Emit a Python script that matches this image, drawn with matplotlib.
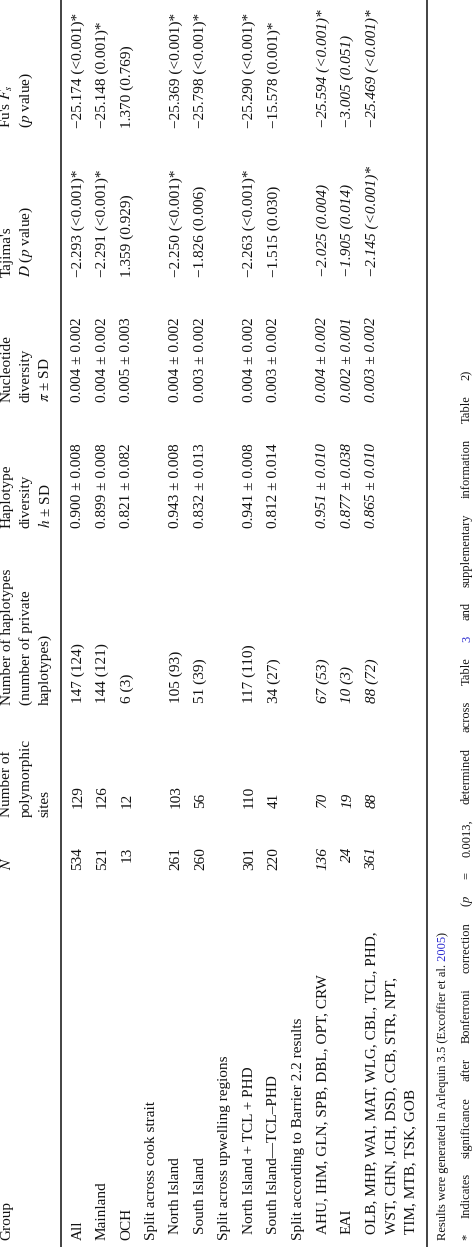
import matplotlib.pyplot as plt

plt.rcParams['font.family'] = ['Liberation Serif', 'DejaVu Serif']
plt.rcParams['mathtext.fontset'] = 'stix'

# Table data
groups = ["All", "Mainland", "OCH", "Split across cook strait", "North Island", "South Island",
          "Split across upwelling regions", "North Island + TCL + PHD", "South Island\u2014TCL\u2013PHD",
          "Split according to Barrier 2.2 results", "AHU, IHM, GLN, SPB, DBL, OPT, CRW", "EAI",
          "OLB, MHP, WAI, MAT, WLG, CBL, TCL, PHD,\nWST, CHN, JCH, DSD, CCB, STR, NPT,\nTIM, MTB, TSK, GOB"]
indent = [0, 0, 0, 0, 1, 1, 0, 1, 1, 0, 1, 1, 1]
n_vals = ["534", "521", "13", "", "261", "260", "", "301", "220", "", "136", "24", "361"]
poly_sites = ["129", "126", "12", "", "103", "56", "", "110", "41", "", "70", "19", "88"]
n_haps = ["147 (124)", "144 (121)", "6 (3)", "", "105 (93)", "51 (39)", "", "117 (110)", "34 (27)", "",
          "67 (53)", "10 (3)", "88 (72)"]
hap_div = ["0.900 \u00b1 0.008", "0.899 \u00b1 0.008", "0.821 \u00b1 0.082", "", "0.943 \u00b1 0.008",
           "0.832 \u00b1 0.013", "", "0.941 \u00b1 0.008", "0.812 \u00b1 0.014", "",
           "0.951 \u00b1 0.010", "0.877 \u00b1 0.038", "0.865 \u00b1 0.010"]
nuc_div = ["0.004 \u00b1 0.002", "0.004 \u00b1 0.002", "0.005 \u00b1 0.003", "", "0.004 \u00b1 0.002",
           "0.003 \u00b1 0.002", "", "0.004 \u00b1 0.002", "0.003 \u00b1 0.002", "",
           "0.004 \u00b1 0.002", "0.002 \u00b1 0.001", "0.003 \u00b1 0.002"]
tajima = ["\u22122.293 (<0.001)*", "\u22122.291 (<0.001)*", "1.359 (0.929)", "", "\u22122.250 (<0.001)*",
          "\u22121.826 (0.006)", "", "\u22122.263 (<0.001)*", "\u22121.515 (0.030)", "",
          "\u22122.025 (0.004)", "\u22121.905 (0.014)", "\u22122.145 (<0.001)*"]
fu_fs = ["\u221225.174 (<0.001)*", "\u221225.148 (0.001)*", "1.370 (0.769)", "", "\u221225.369 (<0.001)*",
         "\u221225.798 (<0.001)*", "", "\u221225.290 (<0.001)*", "\u221215.578 (0.001)*", "",
         "\u221225.594 (<0.001)*", "\u22123.005 (0.051)", "\u221225.469 (<0.001)*"]
italic_rows = [10, 11, 12]

headers = ["Group", "$N$", "Number of\npolymorphic\nsites", "Number of haplotypes\n(number of private\nhaplotypes)",
           "Haplotype\ndiversity\n$h$ \u00b1 SD", "Nucleotide\ndiversity\n$\\pi$ \u00b1 SD",
           "Tajima's\n$D$ ($p$ value)", "Fu's $F_s$\n($p$ value)"]

note2_words = ["*", "Indicates", "significance", "after", "Bonferroni", "correction", "($p$", "=", "0.0013,",
               "determined", "across", "Table", "3", "and", "supplementary", "information", "Table", "2)"]

W, H = 474, 1247
fig = plt.figure(figsize=(W / 100, H / 100), dpi=100)
ax = fig.add_axes([0, 0, 1, 1])
ax.set_xlim(0, W)
ax.set_ylim(H, 0)
ax.axis('off')

FS = 11
kw = dict(rotation=90, rotation_mode='anchor', fontsize=FS, color='#111111')

# header (columns: anchor y, alignment)
hdr_y = [1240, 870, 817, 705, 528, 402, 277, 128]
hdr_lines_x = [7, 26, 45]
for h, y in zip(headers, hdr_y):
    for i, line in enumerate(h.split("\n")):
        ax.text(hdr_lines_x[i], y, line, ha='left', va='center', **kw)

ax.axvline(61, color='#222222', lw=1.2)
ax.axvline(427, color='#222222', lw=1.2)

row0, step, wrap = 78, 24.5, 19.5
cols = [(n_vals, 847, 'right'), (poly_sites, 808, 'left'), (n_haps, 703, 'left'),
        (hap_div, 528, 'left'), (nuc_div, 402, 'left'), (tajima, 277, 'left'), (fu_fs, 128, 'left')]
for r, g in enumerate(groups):
    x = row0 + r * step
    for j, line in enumerate(g.split("\n")):
        ax.text(x + j * wrap, 1240 - 6 * indent[r], line, ha='left', va='center', **kw)
    style = 'italic' if r in italic_rows else 'normal'
    for vals, y, ha in cols:
        if vals[r]:
            ax.text(x, y, vals[r], ha=ha, va='center', style=style, **kw)

# footnotes
blue = '#2a2ad0'
fkw = dict(rotation=90, rotation_mode='anchor', fontsize=9, color='#111111', ha='left', va='center')
t1 = ax.text(443, 1240, "Results were generated in Arlequin 3.5 (Excoffier et al.", **fkw)
t1b = ax.annotate(" 2005", xy=(0.5, 1), xycoords=t1, **dict(fkw, color=blue))
ax.annotate(")", xy=(0.5, 1), xycoords=t1b, **fkw)

# second note is justified across the page: measure words, spread gaps
renderer = fig.canvas.get_renderer()
widths = []
for w in note2_words:
    tmp = ax.text(0, 0, w, fontsize=9)
    widths.append(tmp.get_window_extent(renderer).width)
    tmp.remove()
start, end = 1240, 370
gap = ((start - end) - sum(widths)) / (len(note2_words) - 1)
y = start
for w, wd in zip(note2_words, widths):
    ax.text(467, y, w, **dict(fkw, color=blue if w == "3" else '#111111'))
    y -= wd + gap

fig.savefig("out.png", dpi=100)
